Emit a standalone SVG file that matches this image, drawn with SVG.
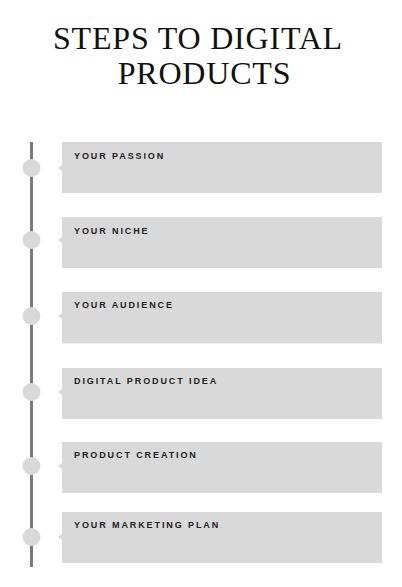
<svg xmlns="http://www.w3.org/2000/svg" width="402" height="587" viewBox="0 0 402 587">
<style>
.title{font-family:"Liberation Serif","Times New Roman",serif;font-size:32px;fill:#111;text-anchor:middle;letter-spacing:0.8px}
.box{fill:#d9d9d9}
.dot{fill:#d9d9d9}
.ptr{fill:#d9d9d9}
.lbl{font-family:"Liberation Sans",Arial,sans-serif;font-size:9px;font-weight:bold;letter-spacing:1.9px;fill:#222}
.line{stroke:#7a7a7a;stroke-width:3;fill:none}
</style>
<rect width="402" height="587" fill="#fff"/>
<g id="title">
<text class="title" x="198" y="49">STEPS TO DIGITAL</text>
<text class="title" x="204.5" y="84">PRODUCTS</text>
</g>
<g id="connectors">
<line class="line" x1="31.5" y1="142" x2="31.5" y2="567"/>
</g>
<g id="step1">
<rect class="box" x="62" y="142" width="320" height="51"/>
<polygon class="ptr" points="62,165 58,168 62,171"/>
<circle class="dot" cx="31.5" cy="168" r="9"/>
<text class="lbl" x="74" y="158.5">YOUR PASSION</text>
</g>
<g id="step2">
<rect class="box" x="62" y="217" width="320" height="51"/>
<polygon class="ptr" points="62,237 58,240 62,243"/>
<circle class="dot" cx="31.5" cy="240" r="9"/>
<text class="lbl" x="74" y="233.5">YOUR NICHE</text>
</g>
<g id="step3">
<rect class="box" x="62" y="292" width="320" height="51.5"/>
<polygon class="ptr" points="62,313 58,316 62,319"/>
<circle class="dot" cx="31.5" cy="316" r="9"/>
<text class="lbl" x="74" y="308">YOUR AUDIENCE</text>
</g>
<g id="step4">
<rect class="box" x="62" y="368" width="320" height="51"/>
<polygon class="ptr" points="62,389 58,392 62,395"/>
<circle class="dot" cx="31.5" cy="392" r="9"/>
<text class="lbl" x="74" y="384">DIGITAL PRODUCT IDEA</text>
</g>
<g id="step5">
<rect class="box" x="62" y="442" width="320" height="51"/>
<polygon class="ptr" points="62,463 58,466 62,469"/>
<circle class="dot" cx="31.5" cy="466" r="9"/>
<text class="lbl" x="74" y="457.5">PRODUCT CREATION</text>
</g>
<g id="step6">
<rect class="box" x="62" y="512" width="320" height="51"/>
<polygon class="ptr" points="62,534 58,537 62,540"/>
<circle class="dot" cx="31.5" cy="537" r="9"/>
<text class="lbl" x="74" y="527.5">YOUR MARKETING PLAN</text>
</g>
</svg>
